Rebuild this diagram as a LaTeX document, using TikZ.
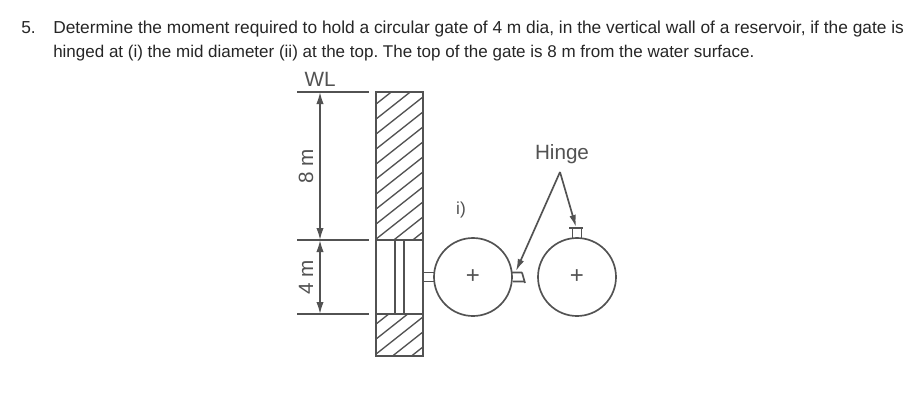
\documentclass[tikz,border=0pt]{standalone}
\usepackage{fontspec}
\setmainfont{Liberation Sans}
\usetikzlibrary{arrows.meta,patterns}
\colorlet{ink}{black!68}
\frenchspacing
\tikzset{
  x=0.75pt,y=-0.75pt,
  line/.style={draw=ink,line width=1.25pt},
  dimtip/.style={{Latex[length=9pt,width=5.5pt]}-{Latex[length=9pt,width=5.5pt]}},
  leader/.style={line,-{Latex[length=9pt,width=5pt]}},
  lab/.style={text=ink,inner sep=0pt,font=\fontsize{15.5pt}{18pt}\selectfont},
  para/.style={text=black!85,inner sep=0pt,anchor=base west,font=\fontsize{13pt}{15pt}\selectfont},
  gate/.style={circle,line,minimum size=58.5pt,inner sep=0pt},
  hatchline/.style={draw=ink,line width=1pt},
}
\begin{document}
\begin{tikzpicture}
\useasboundingbox[fill=white] (0,0) rectangle (922,419);
% text
\node[para] (num) at (21,33) {5.};
\node[para] (l1) at (53,33) {Determine the moment required to hold a circular gate of 4 m dia, in the vertical wall of a reservoir, if the gate is};
\node[para,font=\fontsize{12.75pt}{15pt}\selectfont] (l2) at (53,57) {hinged at (i) the mid diameter (ii) at the top. The top of the gate is 8 m from the water surface.};
\node[lab] (wl) at (320,79) {WL};
% wall hatching
\begin{scope}
\clip (376,92) rectangle (423,240);
\foreach \k in {0,...,14} \draw[hatchline] (366,{112+\k*15}) -- (433,{59+\k*15});
\end{scope}
\begin{scope}
\clip (376,314) rectangle (423,356);
\foreach \k in {0,...,5} \draw[hatchline] (366,{332+\k*15}) -- (433,{279+\k*15});
\end{scope}
% wall
\coordinate (wtl) at (376,92);
\coordinate (wtr) at (423,92);
\coordinate (wbl) at (376,356);
\coordinate (wbr) at (423,356);
\draw[line] (wtl) -- (wtr) -- (wbr) -- (wbl) -- cycle;
\draw[line] (376,240) -- (423,240);
\draw[line] (376,314) -- (423,314);
\draw[line] (395,240) -- (395,314);
\draw[line] (404,240) -- (404,314);
% dimension lines
\coordinate (da) at (297,92);
\coordinate (db) at (369,92);
\coordinate (dc) at (297,240);
\coordinate (dd) at (369,240);
\coordinate (de) at (297,314);
\coordinate (df) at (369,314);
\draw[line] (da) -- (db);
\draw[line] (dc) -- (dd);
\draw[line] (de) -- (df);
\coordinate (a1) at (320,92);
\coordinate (a2) at (320,240);
\coordinate (a3) at (320,314);
\draw[line,dimtip] (a1) -- (a2);
\draw[line,dimtip] (a2) -- (a3);
\node[lab,rotate=90] (d8) at (306,166) {8 m};
\node[lab,rotate=90] (d4) at (306,277) {4 m};
% gates
\node[gate] (g1) at (473,277) {};
\node[gate] (g2) at (577,277) {};
\node[lab,font=\fontsize{18pt}{18pt}\selectfont] (p1) at (473,277) {+};
\node[lab,font=\fontsize{18pt}{18pt}\selectfont] (p2) at (577,277) {+};
\node[lab,font=\fontsize{13pt}{14pt}\selectfont] (i) at (461,210) {i)};
% stem of the gate
\draw[line] (423,272.5) -- (434.5,272.5);
\draw[line] (423,281.5) -- (434.5,281.5);
% hinges
\draw[line] (512,272.5) -- (522,272.5) (513,281.5) -- (524,281.5) (522,272.5) -- (525,283);
\draw[line] (572.5,238.5) -- (572.5,228) (581.5,238.5) -- (581.5,228) (569,228) -- (583,228);
% leader
\node[lab] (hinge) at (562,154) {Hinge};
\coordinate (apex) at (560,172);
\coordinate (h1) at (516,271);
\coordinate (h2) at (576,227);
\draw[leader] (apex) -- (h1);
\draw[leader] (apex) -- (h2);
\end{tikzpicture}
\end{document}
